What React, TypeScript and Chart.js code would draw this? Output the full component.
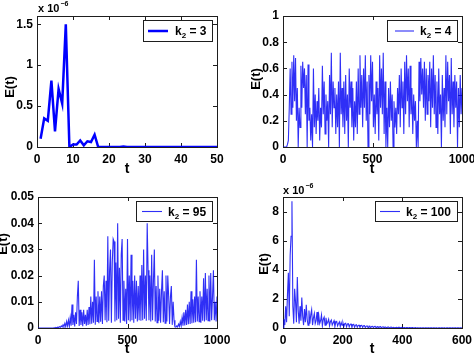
import React, { useEffect, useRef } from "react";
import { Chart, registerables } from "chart.js";

Chart.register(...registerables);

const FONT = '"Liberation Sans", Arial, Helvetica, sans-serif';
const AXIS = "#1e1e1e";

// ---------- Panel 1: k2 = 3 (E values in units of 1e-6) ----------
const t1 = [
  1, 2, 3, 4, 5, 6, 7, 8, 9, 10, 11, 12, 13, 14, 15, 16, 17, 18, 19, 20,
  21, 22, 23, 24, 25, 26, 27, 28, 29, 30, 31, 32, 33, 34, 35, 36, 37, 38, 39, 40,
  41, 42, 43, 44, 45, 46, 47, 48, 49, 50,
];
const e1 = [
  0.1, 0.35, 0.32, 0.81, 0.19, 0.71, 0.53, 1.5, 0.0, 0.03,
  0.03, 0.08, 0.02, 0.07, 0.06, 0.15, 0.0, 0.0, 0.0, 0.0,
  0.0, 0.0, 0.0, 0.005, 0.0, 0.0, 0.0, 0.0, 0.0, 0.0,
  0.0, 0.0, 0.0, 0.0, 0.0, 0.0, 0.0, 0.0, 0.0, 0.0,
  0.0, 0.0, 0.0, 0.0, 0.0, 0.0, 0.0, 0.0, 0.0, 0.0,
];
const xTicks1 = [0, 10, 20, 30, 40, 50];
const yTicks1 = [0, 0.5, 1, 1.5];

// ---------- Panel 2: k2 = 4 (sampled every 5 time units) ----------
const step2 = 5;
const e2 = [
  0, 0, 0, 0, 0, 0.02, 0.05, 0.3, 0.6, 0.25,
  0.65, 0.3, 0.7, 0.35, 0.68, 0.2, 0.45, 0.0, 0.3, 0.15,
  0.62, 0.3, 0.65, 0.45, 0.6, 0.25, 0.55, 0.0, 0.63, 0.2,
  0.3, 0.05, 0.25, 0.0, 0.6, 0.15, 0.4, 0.1, 0.35, 0.2,
  0.45, 0.05, 0.3, 0.15, 0.62, 0.25, 0.5, 0.1, 0.4, 0.2,
  0.35, 0.0, 0.55, 0.25, 0.72, 0.15, 0.5, 0.3, 0.45, 0.1,
  0.4, 0.15, 0.5, 0.0, 0.72, 0.25, 0.45, 0.15, 0.5, 0.1,
  0.55, 0.2, 0.4, 0.0, 0.6, 0.3, 0.5, 0.15, 0.45, 0.05,
  0.35, 0.15, 0.5, 0.1, 0.6, 0.25, 0.7, 0.3, 0.55, 0.15,
  0.6, 0.3, 0.7, 0.2, 0.5, 0.0, 0.55, 0.25, 0.7, 0.35,
  0.65, 0.15, 0.4, 0.1, 0.5, 0.25, 0.45, 0.05, 0.7, 0.3,
  0.6, 0.25, 0.72, 0.1, 0.5, 0.0, 0.3, 0.0, 0.45, 0.15,
  0.5, 0.2, 0.4, 0.0, 0.35, 0.15, 0.3, 0.1, 0.45, 0.25,
  0.55, 0.15, 0.6, 0.3, 0.5, 0.1, 0.65, 0.25, 0.7, 0.35,
  0.6, 0.15, 0.62, 0.25, 0.45, 0.1, 0.4, 0.2, 0.35, 0.0,
  0.2, 0.0, 0.65, 0.35, 0.68, 0.4, 0.6, 0.3, 0.65, 0.2,
  0.6, 0.25, 0.55, 0.35, 0.65, 0.15, 0.6, 0.3, 0.7, 0.25,
  0.55, 0.15, 0.5, 0.1, 0.6, 0.25, 0.4, 0.0, 0.55, 0.2,
  0.45, 0.15, 0.7, 0.25, 0.65, 0.35, 0.55, 0.1, 0.68, 0.25,
  0.5, 0.15, 0.55, 0.3, 0.5, 0.0, 0.45, 0.15, 0.55, 0.25,
  0.45,
];
const xTicks2 = [0, 500, 1000];
const yTicks2 = [0, 0.2, 0.4, 0.6, 0.8, 1];

// ---------- Panel 3: k2 = 95 (sampled every 5 time units) ----------
const step3 = 5;
const e3 = [
  0, 0, 0, 0, 0, 0, 0, 0, 0, 0,
  0, 0, 0, 0, 0, 0, 0, 0, 0.0001, 0.0001,
  0.0002, 0.0001, 0.0003, 0.0002, 0.0005, 0.0003, 0.0008, 0.0004, 0.0012, 0.0006,
  0.0018, 0.0005, 0.0025, 0.0008, 0.003, 0.0006, 0.004, 0.0009, 0.009, 0.0012,
  0.005, 0.0006, 0.006, 0.0015, 0.012, 0.018, 0.0008, 0.007, 0.0012, 0.006,
  0.0007, 0.007, 0.0015, 0.005, 0.0009, 0.007, 0.0012, 0.008, 0.0014, 0.012,
  0.0016, 0.01, 0.002, 0.026, 0.0012, 0.012, 0.0025, 0.014, 0.0018, 0.012,
  0.0024, 0.014, 0.0015, 0.016, 0.02, 0.003, 0.018, 0.0022, 0.035, 0.0028,
  0.022, 0.03, 0.002, 0.025, 0.034, 0.033, 0.0025, 0.025, 0.003, 0.04,
  0.0035, 0.023, 0.002, 0.028, 0.034, 0.003, 0.018, 0.0025, 0.015, 0.0015,
  0.034, 0.003, 0.02, 0.0025, 0.028, 0.003, 0.018, 0.002, 0.02, 0.0035,
  0.018, 0.0025, 0.016, 0.003, 0.02, 0.0028, 0.024, 0.003, 0.03, 0.0035,
  0.02, 0.0028, 0.04, 0.022, 0.003, 0.02, 0.0025, 0.028, 0.003, 0.018,
  0.03, 0.0025, 0.016, 0.002, 0.02, 0.0028, 0.015, 0.002, 0.014, 0.022,
  0.0022, 0.014, 0.0018, 0.02, 0.0025, 0.02, 0.012, 0.0015, 0.012, 0.016,
  0.0012, 0.01, 0.003, 0.0004, 0.0003, 0.0008, 0.0004, 0.0015, 0.0006, 0.0025,
  0.0008, 0.004, 0.0009, 0.006, 0.001, 0.007, 0.0012, 0.009, 0.0014, 0.01,
  0.0015, 0.014, 0.0018, 0.011, 0.002, 0.012, 0.0022, 0.026, 0.0025, 0.012,
  0.0024, 0.014, 0.002, 0.012, 0.0028, 0.019, 0.0025, 0.021, 0.003, 0.015,
  0.0028, 0.02, 0.0025, 0.021, 0.003, 0.012, 0.022, 0.003, 0.01, 0.0025,
  0.012,
];
const xTicks3 = [0, 500, 1000];
const yTicks3 = [0, 0.01, 0.02, 0.03, 0.04, 0.05];

// ---------- Panel 4: k2 = 100 (units of 1e-6, sampled every 3 time units) ----------
const step4 = 3;
const e4 = [
  0, 0.6, 0.2, 1.5, 0.4, 2.3, 3.8, 0.8, 5.0, 6.3,
  8.7, 1.5, 0.3, 2.7, 1.8, 0.4, 3.5, 1.2, 0.3, 1.5,
  0.5, 2.1, 0.8, 0.2, 1.3, 0.4, 1.6, 0.6, 0.2, 1.2,
  0.3, 0.9, 1.25, 0.2, 0.7, 1.0, 0.3, 0.5, 1.1, 0.2,
  0.85, 0.3, 0.5, 0.9, 0.15, 0.6, 0.75, 0.2, 0.7, 0.3,
  0.4, 0.6, 0.15, 0.45, 0.55, 0.2, 0.35, 0.5, 0.1, 0.4,
  0.45, 0.15, 0.3, 0.42, 0.1, 0.38, 0.2, 0.35, 0.1, 0.3,
  0.33, 0.08, 0.28, 0.3, 0.08, 0.25, 0.28, 0.06, 0.22, 0.25,
  0.05, 0.2, 0.23, 0.05, 0.18, 0.2, 0.04, 0.17, 0.18, 0.04,
  0.15, 0.16, 0.03, 0.13, 0.15, 0.03, 0.12, 0.13, 0.02, 0.11,
  0.12, 0.02, 0.1, 0.11, 0.02, 0.09, 0.1, 0.02, 0.08, 0.09,
  0.01, 0.07, 0.08, 0.01, 0.07, 0.07, 0.01, 0.06, 0.06, 0.01,
  0.05, 0.06, 0.01, 0.05, 0.05, 0.01, 0.04, 0.05, 0.01, 0.04,
  0.04, 0.01, 0.035, 0.04, 0.005, 0.03, 0.035, 0.005, 0.03, 0.03,
  0.005, 0.025, 0.03, 0.004, 0.025, 0.025, 0.004, 0.02, 0.025, 0.004,
  0.02, 0.02, 0.003, 0.018, 0.02, 0.003, 0.016, 0.018, 0.003, 0.015,
  0.016, 0.003, 0.014, 0.015, 0.002, 0.013, 0.014, 0.002, 0.012, 0.013,
  0.002, 0.011, 0.012, 0.002, 0.01, 0.011, 0.002, 0.01, 0.01, 0.001,
  0.009, 0.01, 0.001, 0.008, 0.009, 0.001, 0.008, 0.008, 0.001, 0.007,
  0.008, 0.001, 0.007, 0.007, 0.001, 0.006, 0.007, 0.001, 0.006, 0.006,
  0.001,
];
const xTicks4 = [0, 200, 400, 600];
const yTicks4 = [0, 2, 4, 6, 8];

const legendLabels = ["3", "4", "95", "100"];

type Box = { l: number; t: number; r: number; b: number };
type PanelCfg = {
  id: string;
  xs: number[];
  ys: number[];
  xMin: number;
  xMax: number;
  yMin: number;
  yMax: number;
  xTicks: number[];
  yTicks: number[];
  area: Box;
  color: string;
  lineWidth: number;
  legend: Box & { s1: number; s2: number; tx: number; label: string };
  yTitle: { x: number; y: number };
  xTitle: { x: number; y: number };
  mult?: { x: number; y: number };
};

const BLUE_THICK = "#0000ff";
const BLUE_THIN = "rgba(10,10,245,0.85)";

const panels: PanelCfg[] = [
  {
    id: "p1",
    xs: t1,
    ys: e1,
    xMin: 0, xMax: 50, yMin: 0, yMax: 1.6,
    xTicks: xTicks1, yTicks: yTicks1,
    area: { l: 37, t: 16, r: 217, b: 147 },
    color: BLUE_THICK, lineWidth: 2.5,
    legend: { l: 143, t: 20, r: 212, b: 41, s1: 148, s2: 168, tx: 175, label: legendLabels[0] },
    yTitle: { x: 14, y: 87 },
    xTitle: { x: 127, y: 173 },
    mult: { x: 38, y: 12 },
  },
  {
    id: "p2",
    xs: e2.map((_, i) => i * step2),
    ys: e2,
    xMin: 0, xMax: 1000, yMin: 0, yMax: 1,
    xTicks: xTicks2, yTicks: yTicks2,
    area: { l: 283, t: 16, r: 462, b: 147 },
    color: BLUE_THIN, lineWidth: 1.1,
    legend: { l: 387, t: 20, r: 457, b: 41, s1: 395, s2: 414, tx: 420, label: legendLabels[1] },
    yTitle: { x: 260, y: 79 },
    xTitle: { x: 372, y: 173 },
  },
  {
    id: "p3",
    xs: e3.map((_, i) => i * step3),
    ys: e3,
    xMin: 0, xMax: 1000, yMin: 0, yMax: 0.05,
    xTicks: xTicks3, yTicks: yTicks3,
    area: { l: 38, t: 197, r: 217, b: 328 },
    color: BLUE_THIN, lineWidth: 1.1,
    legend: { l: 136, t: 201, r: 212, b: 221, s1: 142, s2: 162, tx: 168, label: legendLabels[2] },
    yTitle: { x: 7, y: 244 },
    xTitle: { x: 127, y: 353 },
  },
  {
    id: "p4",
    xs: e4.map((_, i) => i * step4),
    ys: e4,
    xMin: 0, xMax: 600, yMin: 0, yMax: 9,
    xTicks: xTicks4, yTicks: yTicks4,
    area: { l: 283, t: 197, r: 462, b: 328 },
    color: BLUE_THIN, lineWidth: 1.1,
    legend: { l: 375, t: 201, r: 457, b: 221, s1: 380, s2: 400, tx: 406, label: legendLabels[3] },
    yTitle: { x: 268, y: 264 },
    xTitle: { x: 372, y: 353 },
    mult: { x: 283, y: 194 },
  },
];

const W = 474;
const H = 353;
const YW = 30;
const XH = 20;
const TL = 4;

function decor(p: PanelCfg) {
  return {
    id: "decor_" + p.id,
    beforeDatasetsDraw(chart: any) {
      const { ctx, chartArea: a, scales } = chart;
      ctx.save();
      ctx.strokeStyle = AXIS;
      ctx.lineWidth = 1;
      ctx.strokeRect(a.left + 0.5, a.top + 0.5, a.right - a.left, a.bottom - a.top);
      ctx.beginPath();
      for (const v of p.xTicks) {
        const x = Math.round(scales.x.getPixelForValue(v)) + 0.5;
        ctx.moveTo(x, a.bottom);
        ctx.lineTo(x, a.bottom - TL);
        ctx.moveTo(x, a.top);
        ctx.lineTo(x, a.top + TL);
      }
      for (const v of p.yTicks) {
        const y = Math.round(scales.y.getPixelForValue(v)) + 0.5;
        ctx.moveTo(a.left, y);
        ctx.lineTo(a.left + TL, y);
        ctx.moveTo(a.right, y);
        ctx.lineTo(a.right - TL, y);
      }
      ctx.stroke();
      ctx.restore();
    },
    afterDraw(chart: any) {
      const { ctx } = chart;
      ctx.save();
      // legend
      const L = p.legend;
      ctx.fillStyle = "#fff";
      ctx.fillRect(L.l, L.t, L.r - L.l, L.b - L.t);
      ctx.strokeStyle = AXIS;
      ctx.lineWidth = 1;
      ctx.strokeRect(L.l + 0.5, L.t + 0.5, L.r - L.l, L.b - L.t);
      const mid = (L.t + L.b) / 2 + 0.5;
      ctx.strokeStyle = p.color;
      ctx.lineWidth = p.lineWidth;
      ctx.beginPath();
      ctx.moveTo(L.s1, mid);
      ctx.lineTo(L.s2, mid);
      ctx.stroke();
      ctx.fillStyle = "#000";
      ctx.textBaseline = "alphabetic";
      ctx.textAlign = "left";
      const base = mid + 4;
      let x = L.tx;
      ctx.font = `bold 12px ${FONT}`;
      ctx.fillText("k", x, base);
      x += ctx.measureText("k").width;
      ctx.font = `bold 8px ${FONT}`;
      ctx.fillText("2", x, base + 3);
      x += ctx.measureText("2").width;
      ctx.font = `bold 12px ${FONT}`;
      ctx.fillText(" = " + L.label, x, base);

      // axis titles
      ctx.font = `bold 14px ${FONT}`;
      ctx.textAlign = "center";
      ctx.textBaseline = "alphabetic";
      ctx.fillText("t", p.xTitle.x, p.xTitle.y);
      ctx.font = `bold 13px ${FONT}`;
      ctx.save();
      ctx.translate(p.yTitle.x, p.yTitle.y);
      ctx.rotate(-Math.PI / 2);
      ctx.textBaseline = "alphabetic";
      ctx.fillText("E(t)", 0, 0);
      ctx.restore();

      // multiplier
      if (p.mult) {
        ctx.textAlign = "left";
        ctx.textBaseline = "alphabetic";
        ctx.font = `bold 11px ${FONT}`;
        ctx.fillText("x 10", p.mult.x, p.mult.y);
        const w = ctx.measureText("x 10").width;
        ctx.font = `bold 7px ${FONT}`;
        ctx.fillText("\u22126", p.mult.x + w + 1, p.mult.y - 6);
      }
      ctx.restore();
    },
  };
}

function PanelChart({ p }: { p: PanelCfg }) {
  const ref = useRef<HTMLCanvasElement>(null);
  useEffect(() => {
    const points = p.xs.map((x, i) => ({ x, y: p.ys[i] }));
    const tickFont = { family: FONT, size: 12, weight: "bold" as const };
    const chart = new Chart(ref.current as HTMLCanvasElement, {
      type: "line",
      data: {
        datasets: [
          {
            data: points,
            borderColor: p.color,
            borderWidth: p.lineWidth,
            pointRadius: 0,
            tension: 0,
            fill: false,
          },
        ],
      },
      options: {
        animation: false,
        responsive: false,
        devicePixelRatio: 1,
        events: [],
        layout: {
          padding: {
            left: p.area.l - YW,
            top: p.area.t,
            right: W - p.area.r,
            bottom: H - p.area.b - XH,
          },
        },
        plugins: { legend: { display: false }, tooltip: { enabled: false } },
        scales: {
          x: {
            type: "linear",
            min: p.xMin,
            max: p.xMax,
            grid: { display: false, drawTicks: false },
            border: { display: false },
            ticks: {
              font: tickFont,
              color: "#000",
              padding: 5,
              maxRotation: 0,
              minRotation: 0,
              autoSkip: false,
              callback: (v: any) => String(v),
            },
            afterBuildTicks: (s: any) => {
              s.ticks = p.xTicks.map((v) => ({ value: v }));
            },
            afterFit: (s: any) => {
              s.height = XH;
              s.paddingLeft = 0;
              s.paddingRight = 0;
            },
          },
          y: {
            type: "linear",
            min: p.yMin,
            max: p.yMax,
            grid: { display: false, drawTicks: false },
            border: { display: false },
            ticks: {
              font: tickFont,
              color: "#000",
              padding: 4,
              autoSkip: false,
              callback: (v: any) => String(v),
            },
            afterBuildTicks: (s: any) => {
              s.ticks = p.yTicks.map((v) => ({ value: v }));
            },
            afterFit: (s: any) => {
              s.width = YW;
              s.paddingTop = 0;
              s.paddingBottom = 0;
            },
          },
        },
      },
      plugins: [decor(p)],
    });
    return () => chart.destroy();
  }, [p]);
  return (
    <canvas
      ref={ref}
      width={W}
      height={H}
      style={{ position: "absolute", left: 0, top: 0, width: W, height: H }}
    />
  );
}

export default function App() {
  return (
    <div
      style={{
        position: "fixed",
        left: 0,
        top: 0,
        width: W,
        height: H,
        background: "#fff",
        overflow: "hidden",
      }}
    >
      {panels.map((p) => (
        <PanelChart key={p.id} p={p} />
      ))}
    </div>
  );
}
